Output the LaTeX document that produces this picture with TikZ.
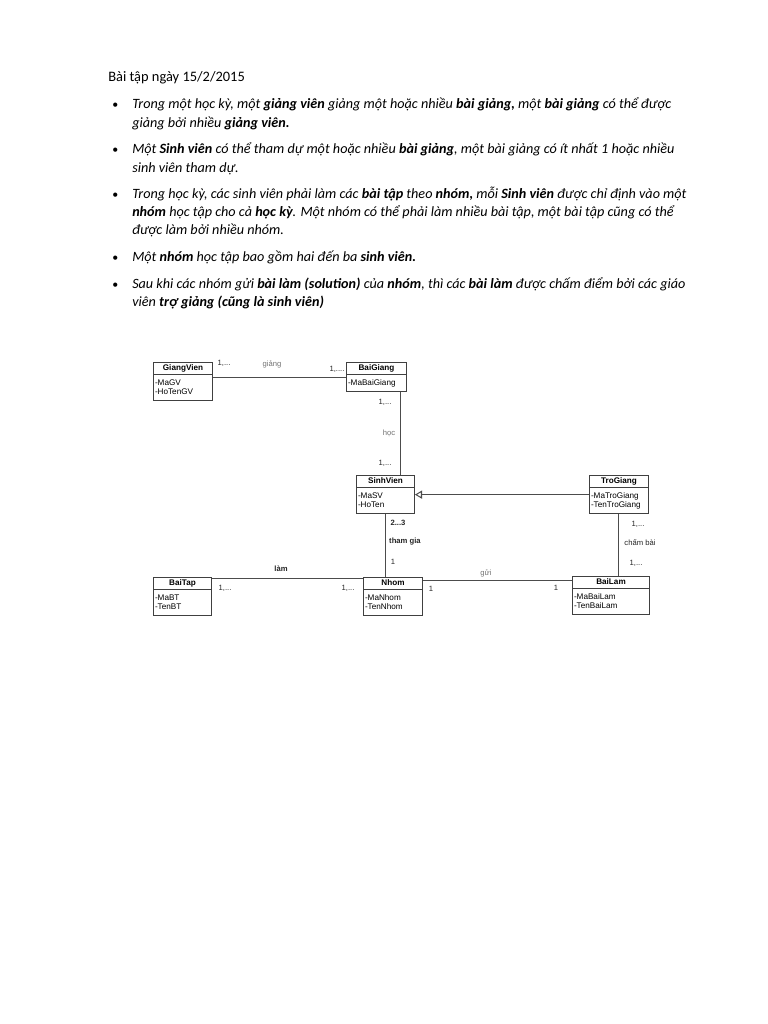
\documentclass[tikz,border=0pt]{standalone}
\usepackage{fontspec}
\setmainfont{Carlito}
\newfontfamily\umlfont{Liberation Sans}
\usetikzlibrary{shapes.multipart, arrows.meta}

\newcommand{\umlsize}{\umlfont\fontsize{6.5}{7.2}\selectfont}
\newcommand{\lblsize}{\umlfont\fontsize{6.1}{7}\selectfont}
\newcommand{\hdstrut}{\rule[-1.4pt]{0pt}{6.4pt}}
\newcommand{\attop}{\rule{0pt}{7.8pt}}
\newcommand{\atbot}{\rule[-3.5pt]{0pt}{3.5pt}}

\begin{document}
\begin{tikzpicture}[x=0.797pt, y=-0.797pt,
  every node/.style={inner sep=0pt},
  para/.style={anchor=base west, font=\fontsize{11.3}{15}\selectfont\itshape},
  dot/.style={anchor=base west, font=\fontsize{11.5}{15}\selectfont},
  umlclass/.style={draw=black!75, line width=0.8pt, rectangle split, rectangle split parts=2,
    rectangle split part align={center,left}, align=left, font=\umlsize,
    inner xsep=1.2pt, inner ysep=1pt, anchor=north west},
  assoc/.style={draw=black!70, line width=0.8pt},
  inherit/.style={assoc, -{Triangle[open, length=5.6pt, width=6.4pt]}},
  mult/.style={font=\lblsize, text=black!85},
  rel/.style={font=\lblsize, text=black!55}]
  \fill[white] (0,0) rectangle (768,1024);
  \useasboundingbox (0,0) rectangle (768,1024);

  \node[dot] (title) at (108,81) {Bài tập ngày 15/2/2015};

  \foreach \y [count=\i] in {108,153,198,261,288}
    \node[dot, font=\fontsize{9.5}{15}\selectfont] (b\i) at (112,\y) {•};

  \node[para] (l1) at (132,108) {Trong một học kỳ, một \textbf{giảng viên} giảng một hoặc nhiều \textbf{bài giảng,} một \textbf{bài giảng} có thể được};
  \node[para] (l2) at (132,127) {giảng bởi nhiều \textbf{giảng viên.}};
  \node[para] (l3) at (132,153) {Một \textbf{Sinh viên} có thể tham dự một hoặc nhiều \textbf{bài giảng}, một bài giảng có ít nhất 1 hoặc nhiều};
  \node[para] (l4) at (132,172) {sinh viên tham dự.};
  \node[para] (l5) at (132,198) {Trong học kỳ, các sinh viên phải làm các \textbf{bài tập} theo \textbf{nhóm,} mỗi \textbf{Sinh viên} được chỉ định vào một};
  \node[para] (l6) at (132,216) {\textbf{nhóm} học tập cho cả \textbf{học kỳ}. Một nhóm có thể phải làm nhiều bài tập, một bài tập cũng có thể};
  \node[para] (l7) at (132,234) {được làm bởi nhiều nhóm.};
  \node[para] (l8) at (132,261) {Một \textbf{nhóm} học tập bao gồm hai đến ba \textbf{sinh viên.}};
  \node[para] (l9) at (132,288) {Sau khi các nhóm gửi \textbf{bài làm (solution)} của \textbf{nhóm}, thì các \textbf{bài làm} được chấm điểm bởi các giáo};
  \node[para] (l10) at (132,306) {viên \textbf{trợ giảng (cũng là sinh viên)}};

  \node[umlclass, minimum width=47pt] (giangvien) at (153,362)
    {\hdstrut\textbf{GiangVien}\nodepart{second}\attop-MaGV\\-HoTenGV\atbot};
  \node[umlclass, minimum width=47.8pt] (baigiang) at (346,362)
    {\hdstrut\textbf{BaiGiang}\nodepart{second}\attop-MaBaiGiang\atbot};
  \node[umlclass, minimum width=46.2pt] (sinhvien) at (356,475)
    {\hdstrut\textbf{SinhVien}\nodepart{second}\attop-MaSV\\-HoTen\atbot};
  \node[umlclass, minimum width=47pt] (trogiang) at (589,475)
    {\hdstrut\textbf{TroGiang}\nodepart{second}\attop-MaTroGiang\\-TenTroGiang\atbot};
  \node[umlclass, minimum width=46.2pt] (baitap) at (153,577)
    {\hdstrut\textbf{BaiTap}\nodepart{second}\attop-MaBT\\-TenBT\atbot};
  \node[umlclass, minimum width=47pt] (nhom) at (363,577)
    {\hdstrut\textbf{Nhom}\nodepart{second}\attop-MaNhom\\-TenNhom\atbot};
  \node[umlclass, minimum width=61.4pt] (bailam) at (572,576)
    {\hdstrut\textbf{BaiLam}\nodepart{second}\attop-MaBaiLam\\-TenBaiLam\atbot};

  \draw[assoc] (giangvien.east |- baigiang.west) -- (baigiang.west);
  \draw[assoc] ([xshift=-4.8pt]baigiang.south east) -- ([xshift=-4.8pt]baigiang.south east |- sinhvien.north);
  \draw[inherit] (trogiang.west |- sinhvien.east) -- (sinhvien.east);
  \draw[assoc] (sinhvien.south) -- (sinhvien.south |- nhom.north);
  \draw[assoc] ([yshift=-0.8pt]baitap.north east) -- ([yshift=-0.8pt]nhom.north west);
  \draw[assoc] ([yshift=-2.4pt]nhom.north east) -- ([yshift=-2.4pt]nhom.north east -| bailam.west);
  \draw[assoc] (trogiang.south) -- (trogiang.south |- bailam.north);

  \node[mult] (m1) at (224,363) {1,...};
  \node[rel] (r1) at (272,364) {giảng};
  \node[mult] (m2) at (337,369) {1,....};
  \node[mult] (m3) at (385,402) {1,...};
  \node[rel] (r2) at (389,433) {học};
  \node[mult] (m4) at (385,463) {1,...};
  \node[mult] (m5) at (398,523) {\textbf{2...3}};
  \node[mult] (r3) at (405,542) {\textbf{tham gia}};
  \node[mult] (m6) at (393,562) {1};
  \node[mult] (r4) at (281,569) {\textbf{làm}};
  \node[mult] (m7) at (225,588) {1,...};
  \node[mult] (m8) at (348,588) {1,...};
  \node[rel] (r5) at (486,573) {gửi};
  \node[mult] (m9) at (431,589) {1};
  \node[mult] (m10) at (556,588) {1};
  \node[mult] (m11) at (638,524) {1,...};
  \node[mult] (r6) at (640,543) {chấm bài};
  \node[mult] (m12) at (636,563) {1,...};
\end{tikzpicture}
\end{document}
